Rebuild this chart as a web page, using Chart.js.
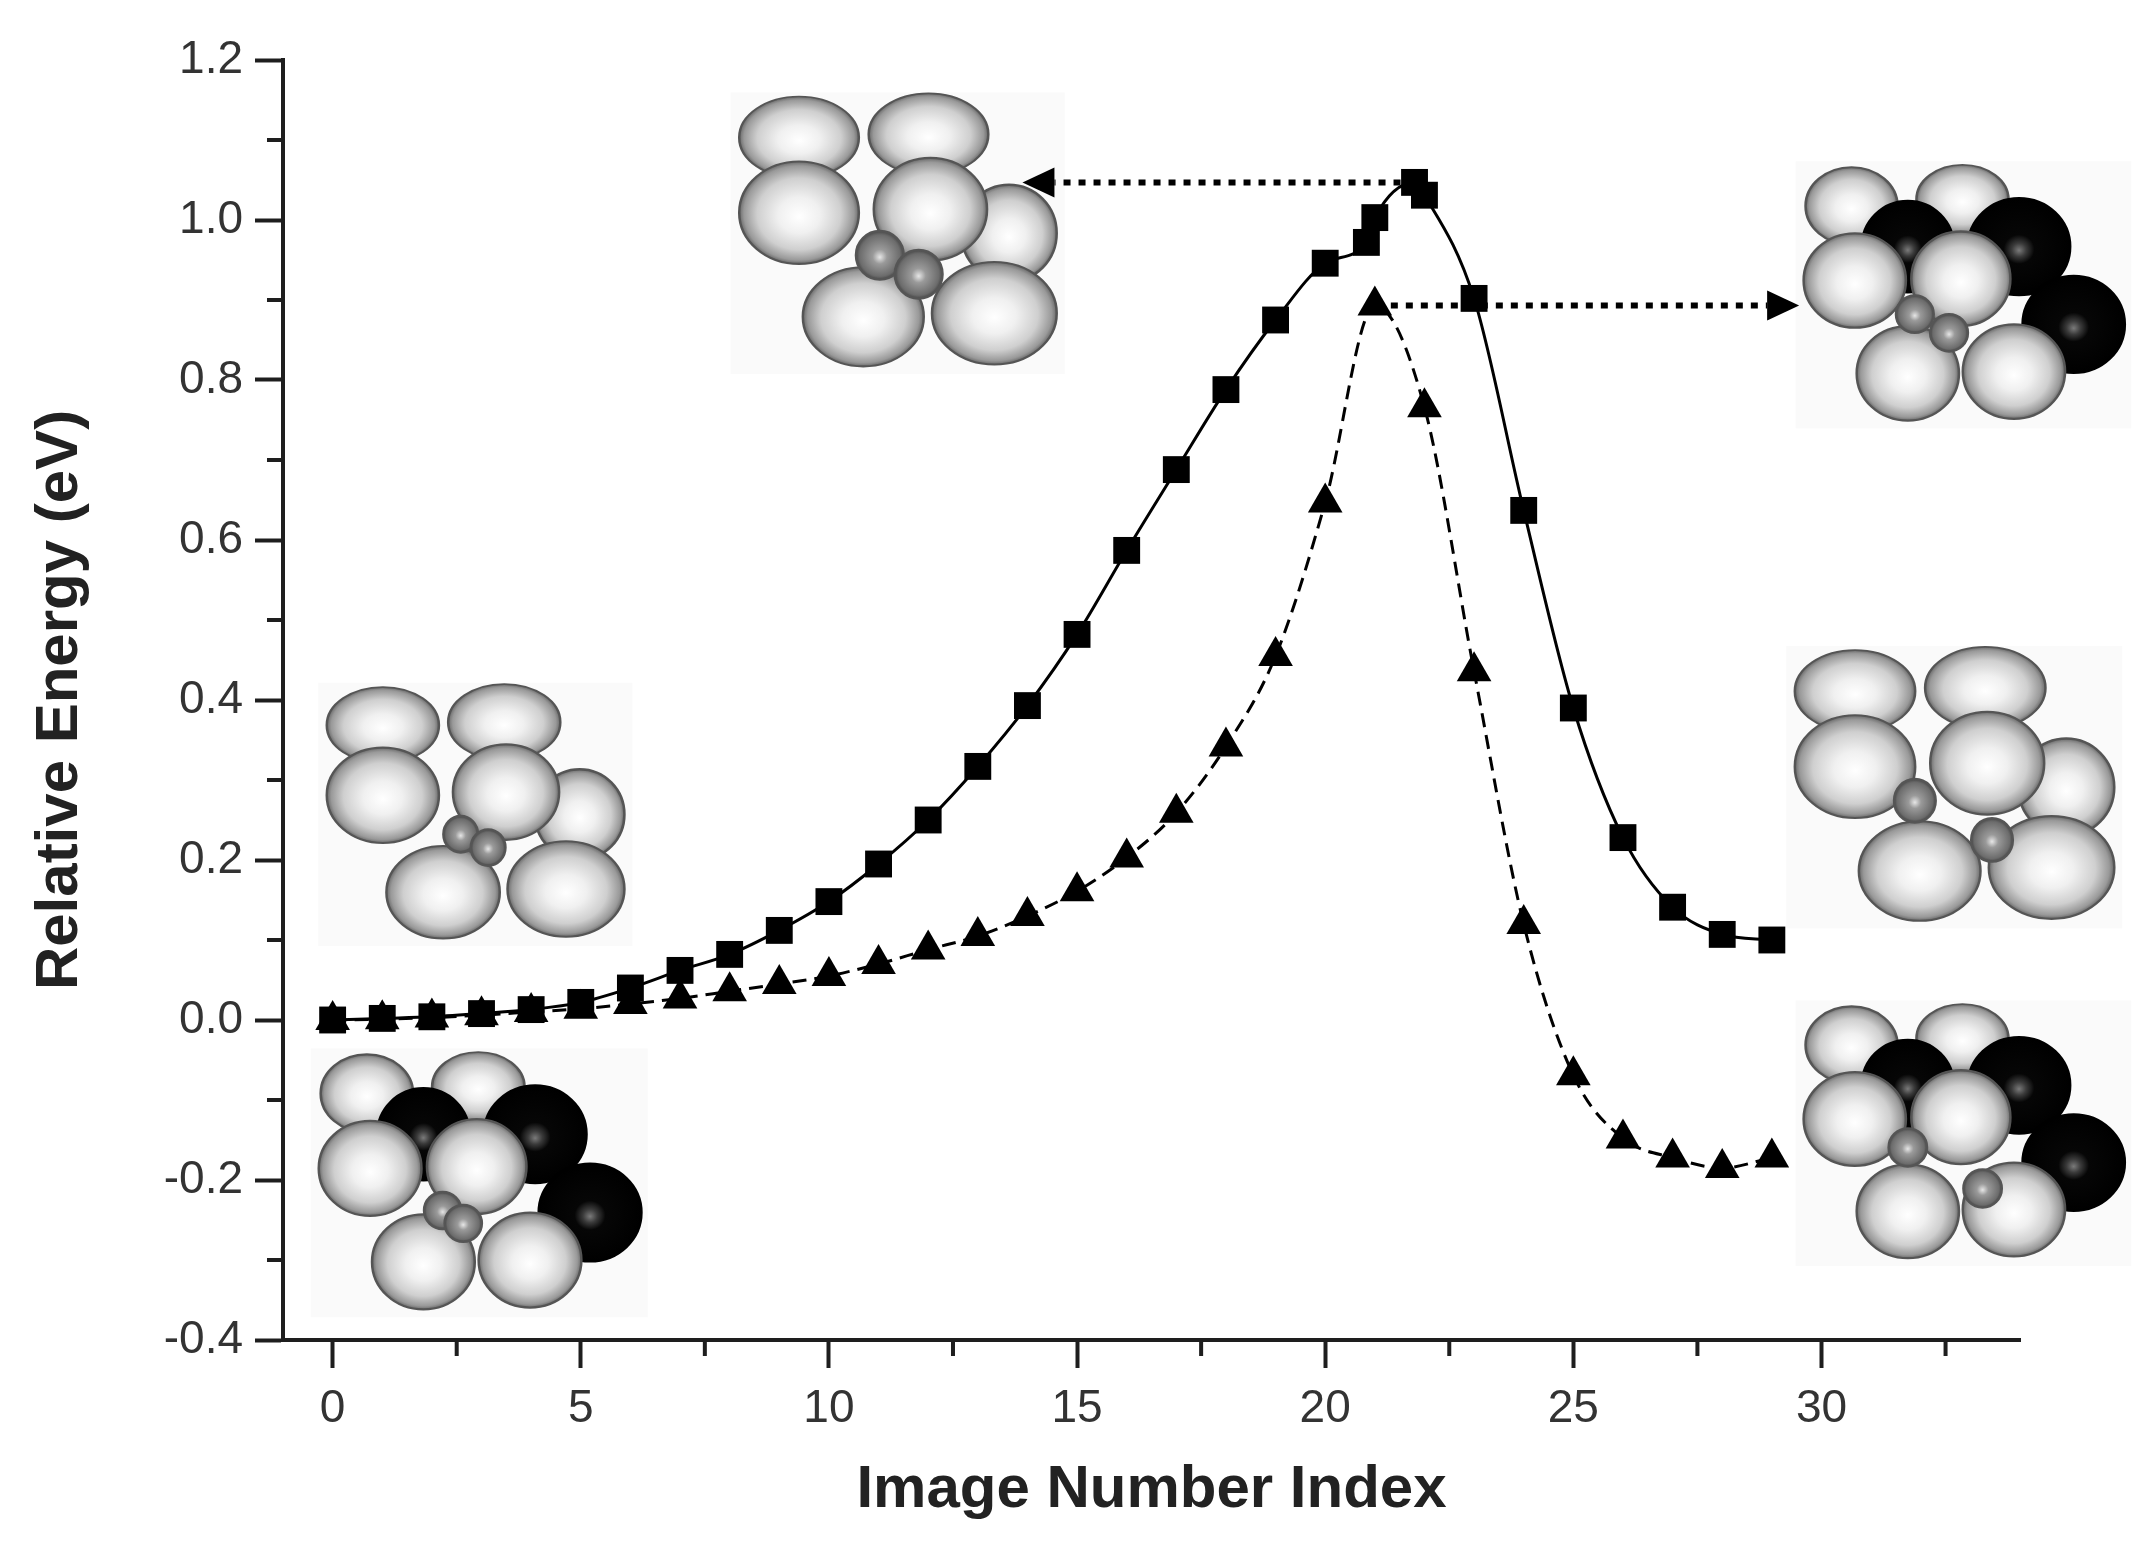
<!DOCTYPE html>
<html>
<head>
<meta charset="utf-8">
<script src="https://cdn.jsdelivr.net/npm/chart.js@4.4.1/dist/chart.umd.min.js"></script>
<style>
  html, body { margin: 0; padding: 0; background: #fff; }
  #wrap { width: 2148px; height: 1546px; }
</style>
</head>
<body>
<div id="wrap"><canvas id="nebChart" width="2148" height="1546"></canvas></div>
<script>
// Image numbers (the climbing images sit between 20 and 22)
const squareX = [0, 1, 2, 3, 4, 5, 6, 7, 8, 9, 10, 11, 12, 13, 14, 15, 16, 17, 18, 19, 20, 20.83, 21, 21.8, 22, 23, 24, 25, 26, 27, 28, 29];
const squareY = [0.0, 0.002, 0.004, 0.008, 0.013, 0.022, 0.04, 0.062, 0.082, 0.112, 0.148, 0.195, 0.25, 0.317, 0.393, 0.482, 0.587, 0.688, 0.788, 0.875, 0.946, 0.972, 1.003, 1.047, 1.031, 0.902, 0.637, 0.39, 0.228, 0.141, 0.107, 0.1];

const triangleX = [0, 1, 2, 3, 4, 5, 6, 7, 8, 9, 10, 11, 12, 13, 14, 15, 16, 17, 18, 19, 20, 21, 22, 23, 24, 25, 26, 27, 28, 29];
const triangleY = [0.0, 0.001, 0.003, 0.006, 0.01, 0.014, 0.02, 0.027, 0.036, 0.045, 0.055, 0.07, 0.088, 0.105, 0.13, 0.161, 0.203, 0.259, 0.342, 0.455, 0.647, 0.893, 0.766, 0.436, 0.12, -0.069, -0.148, -0.172, -0.185, -0.172];

// Axis ticks
const xTickValues = [0, 5, 10, 15, 20, 25, 30];
const yTickValues = [-0.4, -0.2, 0.0, 0.2, 0.4, 0.6, 0.8, 1.0, 1.2];
const xMinorTicks = [2.5, 7.5, 12.5, 17.5, 22.5, 27.5, 32.5];
const yMinorTicks = [-0.3, -0.1, 0.1, 0.3, 0.5, 0.7, 0.9, 1.1];

const AXIS = '#1e1e1e';

function toPoints(xs, ys) {
    return xs.map((x, i) => ({ x: x, y: ys[i] }));
}

// Atom layouts of the cluster pictures, in box fractions: [kind, cx, cy, rx, ry]
const lightCluster = [
    ['L', 0.85, 0.5, 0.15, 0.18],
    ['L', 0.19, 0.145, 0.188, 0.152],
    ['L', 0.597, 0.133, 0.188, 0.152],
    ['L', 0.19, 0.424, 0.188, 0.19],
    ['L', 0.603, 0.411, 0.178, 0.19],
    ['L', 0.392, 0.81, 0.19, 0.184],
    ['L', 0.804, 0.797, 0.196, 0.19]
];
const mixedCluster = [
    ['L', 0.150, 0.152, 0.144, 0.152],
    ['L', 0.497, 0.126, 0.144, 0.135],
    ['B', 0.326, 0.311, 0.144, 0.179],
    ['B', 0.674, 0.311, 0.16, 0.19],
    ['B', 0.845, 0.616, 0.16, 0.19],
    ['L', 0.160, 0.444, 0.16, 0.185],
    ['L', 0.492, 0.437, 0.155, 0.185],
    ['L', 0.326, 0.808, 0.16, 0.185],
    ['L', 0.658, 0.801, 0.16, 0.185]
];

// Where each picture sits, in axis units: x1, x2, yTop, yBottom
const insets = [
    { atoms: lightCluster, box: [8.18, 14.59, 1.152, 0.815], h: [[0.444, 0.582], [0.566, 0.652]], hr: [0.075, 0.09] },
    { atoms: lightCluster, box: [-0.13, 5.88, 0.414, 0.10], h: [[0.451, 0.579], [0.543, 0.632]], hr: [0.058, 0.072] },
    { atoms: mixedCluster, box: [-0.28, 6.19, -0.043, -0.364], h: [[0.386, 0.608], [0.45, 0.658]], hr: [0.058, 0.072] },
    { atoms: mixedCluster, box: [29.64, 36.08, 1.066, 0.747], h: [[0.348, 0.576], [0.455, 0.649]], hr: [0.059, 0.073] },
    { atoms: lightCluster, box: [29.45, 35.9, 0.46, 0.122], h: [[0.377, 0.55], [0.618, 0.695]], hr: [0.065, 0.08] },
    { atoms: mixedCluster, box: [29.64, 36.08, 0.017, -0.30], h: [[0.326, 0.556], [0.56, 0.718]], hr: [0.06, 0.075] }
];

function drawAtom(ctx, kind, cx, cy, rx, ry) {
    ctx.save();
    ctx.translate(cx, cy);
    ctx.scale(1, ry / rx);
    const g = ctx.createRadialGradient(0, rx * 0.08, 0, 0, 0, rx);
    if (kind === 'B') {
        g.addColorStop(0, '#7a7a7a');
        g.addColorStop(0.14, '#3a3a3a');
        g.addColorStop(0.3, '#060606');
        g.addColorStop(1, '#000');
    } else if (kind === 'S') {
        g.addColorStop(0, '#e6e6e6');
        g.addColorStop(0.3, '#9a9a9a');
        g.addColorStop(0.85, '#6c6c6c');
        g.addColorStop(1, '#4a4a4a');
    } else {
        g.addColorStop(0, '#ffffff');
        g.addColorStop(0.35, '#f0f0f0');
        g.addColorStop(0.7, '#cfcfcf');
        g.addColorStop(0.92, '#999');
        g.addColorStop(1, '#6a6a6a');
    }
    ctx.beginPath();
    ctx.arc(0, 0, rx, 0, Math.PI * 2);
    ctx.fillStyle = g;
    ctx.fill();
    ctx.lineWidth = 2.5;
    ctx.strokeStyle = kind === 'B' ? '#000' : '#555';
    ctx.stroke();
    ctx.restore();
}

function drawArrow(ctx, x0, y, x1) {
    const dir = x1 > x0 ? 1 : -1;
    const headLen = 32;
    ctx.save();
    ctx.strokeStyle = '#000';
    ctx.fillStyle = '#000';
    ctx.lineWidth = 6;
    ctx.setLineDash([7, 8]);
    ctx.beginPath();
    ctx.moveTo(x0, y);
    ctx.lineTo(x1 - dir * headLen, y);
    ctx.stroke();
    ctx.setLineDash([]);
    ctx.beginPath();
    ctx.moveTo(x1, y);
    ctx.lineTo(x1 - dir * headLen, y - 15);
    ctx.lineTo(x1 - dir * headLen, y + 15);
    ctx.closePath();
    ctx.fill();
    ctx.restore();
}

const clusterPlugin = {
    id: 'clusters',
    beforeDatasetsDraw(chart) {
        const ctx = chart.ctx;
        const xs = chart.scales.x, ys = chart.scales.y;
        insets.forEach(ins => {
            const left = xs.getPixelForValue(ins.box[0]);
            const right = xs.getPixelForValue(ins.box[1]);
            const top = ys.getPixelForValue(ins.box[2]);
            const bottom = ys.getPixelForValue(ins.box[3]);
            const w = right - left, h = bottom - top;
            ctx.save();
            ctx.fillStyle = '#fafafa';
            ctx.fillRect(left - 8, top - 6, w + 16, h + 12);
            ins.atoms.forEach(a => {
                drawAtom(ctx, a[0], left + a[1] * w, top + a[2] * h, a[3] * w, a[4] * h);
            });
            ins.h.forEach(p => {
                drawAtom(ctx, 'S', left + p[0] * w, top + p[1] * h, ins.hr[0] * w, ins.hr[1] * h);
            });
            ctx.restore();
        });

        // dotted arrows from the two saddle points to their pictures
        const peakSq = squareY.indexOf(Math.max(...squareY));
        const peakTr = triangleY.indexOf(Math.max(...triangleY));
        drawArrow(ctx, xs.getPixelForValue(squareX[peakSq]) - 14, ys.getPixelForValue(squareY[peakSq]), xs.getPixelForValue(13.9));
        drawArrow(ctx, xs.getPixelForValue(triangleX[peakTr]) + 16, ys.getPixelForValue(triangleY[peakTr]), xs.getPixelForValue(29.55));
    },
    afterDraw(chart) {
        // minor ticks, drawn outward like the major ones
        const ctx = chart.ctx;
        const xs = chart.scales.x, ys = chart.scales.y;
        ctx.save();
        ctx.strokeStyle = AXIS;
        ctx.lineWidth = 4;
        ctx.beginPath();
        yMinorTicks.forEach(v => {
            const py = ys.getPixelForValue(v);
            ctx.moveTo(xs.left, py);
            ctx.lineTo(xs.left - 16, py);
        });
        xMinorTicks.forEach(v => {
            const px = xs.getPixelForValue(v);
            ctx.moveTo(px, ys.bottom);
            ctx.lineTo(px, ys.bottom + 16);
        });
        ctx.stroke();
        ctx.restore();
    }
};

const ctx = document.getElementById('nebChart').getContext('2d');
new Chart(ctx, {
    type: 'scatter',
    data: {
        datasets: [{
            label: 'path 1',
            data: toPoints(squareX, squareY),
            showLine: true,
            borderColor: '#000',
            borderWidth: 3,
            backgroundColor: '#000',
            pointStyle: 'rect',
            pointRadius: 19,
            pointBorderWidth: 0,
            cubicInterpolationMode: 'monotone'
        }, {
            label: 'path 2',
            data: toPoints(triangleX, triangleY),
            showLine: true,
            borderColor: '#000',
            borderWidth: 3,
            borderDash: [14, 8],
            backgroundColor: '#000',
            pointStyle: 'triangle',
            pointRadius: 20,
            pointBorderWidth: 0,
            cubicInterpolationMode: 'monotone'
        }]
    },
    options: {
        responsive: false,
        devicePixelRatio: 1,
        animation: false,
        layout: { padding: { top: 60, right: 128, bottom: 0, left: 0 } },
        plugins: {
            legend: { display: false },
            tooltip: { enabled: false }
        },
        scales: {
            x: {
                type: 'linear',
                min: -1,
                max: 34,
                border: { display: true, color: AXIS, width: 4 },
                grid: { drawOnChartArea: false, drawTicks: true, tickLength: 28, tickWidth: 4, tickColor: AXIS },
                afterBuildTicks: scale => { scale.ticks = xTickValues.map(v => ({ value: v })); },
                afterFit: scale => { scale.height = 206; },
                ticks: {
                    padding: 14,
                    color: '#333',
                    font: { family: 'Liberation Sans, Arial, sans-serif', size: 46 },
                    callback: v => String(v)
                },
                title: {
                    display: true,
                    text: 'Image Number Index',
                    color: '#222',
                    padding: { top: 0, bottom: 20 },
                    font: { family: 'Liberation Sans, Arial, sans-serif', size: 60, weight: 'bold', lineHeight: 1.2 }
                }
            },
            y: {
                type: 'linear',
                min: -0.4,
                max: 1.2,
                border: { display: true, color: AXIS, width: 4 },
                grid: { drawOnChartArea: false, drawTicks: true, tickLength: 28, tickWidth: 4, tickColor: AXIS },
                afterBuildTicks: scale => { scale.ticks = yTickValues.map(v => ({ value: v })); },
                afterFit: scale => { scale.width = 283; },
                ticks: {
                    padding: 12,
                    color: '#333',
                    font: { family: 'Liberation Sans, Arial, sans-serif', size: 46 },
                    callback: v => Number(v).toFixed(1)
                },
                title: {
                    display: true,
                    text: 'Relative Energy (eV)',
                    color: '#222',
                    padding: { top: 24, bottom: 0 },
                    font: { family: 'Liberation Sans, Arial, sans-serif', size: 60, weight: 'bold', lineHeight: 1.2 }
                }
            }
        }
    },
    plugins: [clusterPlugin]
});
</script>
</body>
</html>
